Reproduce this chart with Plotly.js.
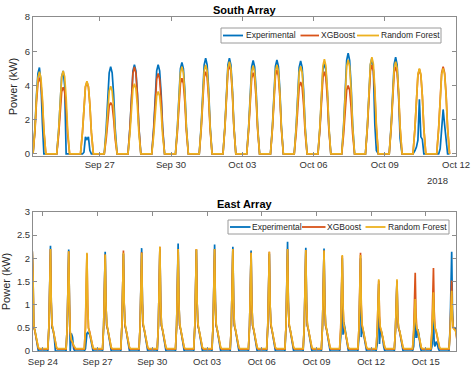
<!DOCTYPE html>
<html>
<head>
<meta charset="utf-8">
<script src="https://cdn.plot.ly/plotly-3.0.1.min.js"></script>
<style>html,body{margin:0;padding:0;background:#fff;}#chart{width:474px;height:372px;}</style>
</head>
<body>
<div id="chart"></div>
<script>
// ---------------- DATA ----------------
const seriesNames = ['Experimental', 'XGBoost', 'Random Forest'];

// South array: one row per day, values at southHours (kW)
const southDays = ['2018-09-24','2018-09-25','2018-09-26','2018-09-27','2018-09-28','2018-09-29',
  '2018-09-30','2018-10-01','2018-10-02','2018-10-03','2018-10-04','2018-10-05','2018-10-06',
  '2018-10-07','2018-10-08','2018-10-09','2018-10-10','2018-10-11'];
const southHours = [4.5, 6.5, 8, 9.5, 11, 12.5, 14, 15.5, 17.5];
const southExp = [
  [0, 1.52, 3.43, 4.70, 5.05, 4.20, 1.80, 0, 0],
  [0, 1.46, 3.30, 4.51, 4.85, 4.00, 0, 0, 0],
  [0, 0, 0.10, 1.00, 0.85, 1.00, 0.20, 0, 0],
  [0, 1.53, 3.47, 4.74, 5.10, 4.74, 3.47, 1.53, 0],
  [0, 1.57, 3.55, 4.85, 5.22, 4.85, 3.55, 1.57, 0],
  [0, 1.57, 3.55, 4.85, 5.22, 4.85, 3.55, 1.57, 0],
  [0, 1.61, 3.64, 4.98, 5.35, 4.98, 3.64, 1.61, 0],
  [0, 1.68, 3.80, 5.20, 5.59, 5.20, 3.80, 1.68, 0],
  [0, 1.68, 3.80, 5.20, 5.59, 5.20, 3.80, 1.68, 0],
  [0, 1.64, 3.71, 5.08, 5.46, 5.08, 3.71, 1.64, 0],
  [0, 1.65, 3.73, 5.11, 5.49, 5.11, 3.73, 1.65, 0],
  [0, 1.63, 3.70, 5.06, 5.44, 5.06, 3.70, 1.63, 0],
  [0, 1.59, 3.60, 4.92, 5.29, 4.92, 3.60, 1.59, 0],
  [0, 1.76, 4.00, 5.47, 5.88, 5.47, 4.00, 1.76, 0],
  [0, 1.68, 3.81, 5.21, 5.60, 4.90, 1.70, 0.20, 0],
  [0, 1.70, 3.84, 5.25, 5.65, 5.20, 3.40, 0.90, 0],
  [0, 0.20, 0.40, 0.80, 3.20, 1.00, 0.85, 0, 0],
  [0, 0, 0.30, 1.80, 2.60, 1.70, 0.65, 0, 0]
];
const southXgb = [
  [0, 1.34, 3.03, 4.14, 4.45, 4.14, 3.03, 1.34, 0],
  [0, 1.17, 2.65, 3.63, 3.90, 3.63, 2.65, 1.17, 0],
  [0, 1.26, 2.86, 3.91, 4.20, 3.91, 2.86, 1.26, 0],
  [0, 0.90, 2.04, 2.79, 3.00, 2.85, 2.04, 0.90, 0],
  [0, 1.52, 3.45, 4.72, 5.08, 4.72, 3.45, 1.52, 0],
  [0, 1.41, 3.20, 4.37, 4.70, 4.37, 3.20, 1.41, 0],
  [0, 1.33, 3.01, 4.11, 4.42, 4.11, 3.01, 1.33, 0],
  [0, 1.44, 3.27, 4.47, 4.81, 4.47, 3.27, 1.44, 0],
  [0, 1.56, 3.54, 4.84, 5.20, 4.84, 3.54, 1.56, 0],
  [0, 1.43, 3.23, 4.42, 4.75, 4.42, 3.23, 1.43, 0],
  [0, 1.47, 3.33, 4.56, 4.90, 4.56, 3.33, 1.47, 0],
  [0, 1.26, 2.86, 3.91, 4.20, 3.91, 2.86, 1.26, 0],
  [0, 1.44, 3.26, 4.46, 4.80, 4.46, 3.26, 1.44, 0],
  [0, 1.20, 2.72, 3.72, 4.00, 3.72, 2.72, 1.20, 0],
  [0, 1.56, 3.54, 4.84, 5.20, 4.84, 3.54, 1.56, 0],
  [0, 1.53, 3.47, 4.74, 5.10, 4.74, 3.47, 1.53, 0],
  [0, 1.49, 3.37, 4.60, 4.95, 4.60, 3.37, 1.49, 0],
  [0, 1.53, 3.47, 4.74, 5.10, 4.74, 3.47, 1.53, 0]
];
const southRf = [
  [0, 1.44, 3.26, 4.46, 4.80, 4.46, 3.26, 1.44, 0],
  [0, 1.46, 3.30, 4.51, 4.85, 4.51, 3.30, 1.46, 0],
  [0, 1.28, 2.89, 3.95, 4.25, 3.95, 2.89, 1.28, 0],
  [0, 1.19, 2.69, 3.67, 3.95, 3.67, 2.69, 1.19, 0],
  [0, 1.23, 2.79, 3.81, 4.10, 3.81, 2.79, 1.23, 0],
  [0, 1.10, 2.48, 3.39, 3.65, 3.39, 2.48, 1.10, 0],
  [0, 1.53, 3.47, 4.74, 5.10, 4.74, 3.47, 1.53, 0],
  [0, 1.56, 3.54, 4.84, 5.20, 4.84, 3.54, 1.56, 0],
  [0, 1.62, 3.67, 5.01, 5.39, 5.01, 3.67, 1.62, 0],
  [0, 1.55, 3.50, 4.79, 5.15, 4.79, 3.50, 1.55, 0],
  [0, 1.56, 3.54, 4.84, 5.20, 4.84, 3.54, 1.56, 0],
  [0, 1.54, 3.48, 4.76, 5.12, 4.76, 3.48, 1.54, 0],
  [0, 1.66, 3.76, 5.14, 5.53, 5.14, 3.76, 1.66, 0],
  [0, 1.65, 3.73, 5.11, 5.49, 5.11, 3.73, 1.65, 0],
  [0, 1.70, 3.84, 5.25, 5.65, 5.25, 3.84, 1.70, 0],
  [0, 1.62, 3.67, 5.01, 5.39, 5.01, 3.67, 1.62, 0],
  [0, 1.50, 3.40, 4.65, 5.00, 4.65, 3.40, 1.50, 0],
  [0, 1.50, 3.40, 4.65, 5.00, 4.65, 3.40, 1.50, 0]
];

// East array: one row per day, values at eastHours (kW)
const eastDays = ['2018-09-23','2018-09-24','2018-09-25','2018-09-26','2018-09-27','2018-09-28',
  '2018-09-29','2018-09-30','2018-10-01','2018-10-02','2018-10-03','2018-10-04','2018-10-05',
  '2018-10-06','2018-10-07','2018-10-08','2018-10-09','2018-10-10','2018-10-11','2018-10-12',
  '2018-10-13','2018-10-14','2018-10-15','2018-10-16'];
const eastHours = [6.5, 8, 9, 10, 11, 12, 13.5, 15, 16.5, 18, 19.5];
const eastExp = [
  [0, 0.55, 1.60, 2.15, 1.62, 0.50, 0.45, 0.30, 0.12, 0, 0],
  [0, 0.55, 1.65, 2.27, 1.05, 0.50, 0.45, 0.30, 0, 0, 0],
  [0, 0.50, 1.60, 2.19, 1.00, 0, 0.38, 0.30, 0.05, 0, 0],
  [0, 0.05, 0.30, 0.38, 0.40, 0.38, 0.36, 0.25, 0.10, 0, 0],
  [0, 0.55, 1.60, 2.14, 1.00, 0.55, 0.45, 0.32, 0.15, 0, 0],
  [0, 0.55, 1.55, 2.10, 1.00, 0.55, 0.45, 0.32, 0.15, 0, 0],
  [0, 0.55, 1.65, 2.22, 1.05, 0.55, 0.45, 0.32, 0.15, 0, 0],
  [0, 0.55, 1.62, 2.20, 1.05, 0.55, 0.45, 0.32, 0.15, 0, 0],
  [0, 0.55, 1.70, 2.32, 1.08, 0.55, 0.45, 0.32, 0.15, 0, 0],
  [0, 0.55, 1.60, 2.18, 1.03, 0.55, 0.45, 0.32, 0.15, 0, 0],
  [0, 0.55, 1.68, 2.30, 1.08, 0.55, 0.45, 0.32, 0.15, 0, 0],
  [0, 0.55, 1.65, 2.25, 1.05, 0.55, 0.45, 0.32, 0.15, 0, 0],
  [0, 0.55, 1.60, 2.17, 1.02, 0.55, 0.45, 0.32, 0.15, 0, 0],
  [0, 0.55, 1.55, 2.10, 1.00, 0.55, 0.45, 0.32, 0.15, 0, 0],
  [0, 0.55, 1.72, 2.36, 1.10, 0.55, 0.45, 0.32, 0.15, 0, 0],
  [0, 0.55, 1.63, 2.23, 1.05, 0.55, 0.45, 0.32, 0.15, 0, 0],
  [0, 0.55, 1.62, 2.21, 1.04, 0.55, 0.45, 0.32, 0.15, 0, 0],
  [0, 0.30, 1.45, 2.00, 0.35, 0.62, 0.50, 0.30, 0.12, 0, 0],
  [0, 0.30, 1.45, 2.00, 0.30, 0.52, 0.42, 0.30, 0.12, 0, 0],
  [0, 0.15, 0.90, 1.45, 0.15, 0.43, 0.40, 0.30, 0.10, 0, 0],
  [0, 0.45, 1.10, 1.50, 0.70, 0.50, 0.42, 0.30, 0.12, 0, 0],
  [0, 0.10, 0.50, 0.90, 0.30, 0.30, 0.47, 0.35, 0.10, 0, 0],
  [0, 0.10, 0.40, 0.70, 0.15, 0.10, 0.20, 0.15, 0.05, 0, 0],
  [0, 0.55, 1.55, 2.14, 0.90, 0.52, 0.50, 0.50, 0.45, 0, 0]
];
const eastXgb = [
  [0.04, 0.55, 1.60, 2.15, 1.62, 0.55, 0.42, 0.30, 0.16, 0.06, 0.04],
  [0.04, 0.55, 1.60, 2.20, 1.05, 0.56, 0.45, 0.33, 0.18, 0.06, 0.04],
  [0.04, 0.50, 1.55, 2.15, 1.00, 0.40, 0.22, 0.18, 0.10, 0.05, 0.04],
  [0.04, 0.50, 1.50, 2.10, 1.00, 0.50, 0.42, 0.30, 0.16, 0.06, 0.04],
  [0.04, 0.55, 1.52, 2.08, 1.00, 0.56, 0.45, 0.33, 0.18, 0.06, 0.04],
  [0.04, 0.55, 1.60, 2.17, 1.04, 0.56, 0.45, 0.33, 0.18, 0.06, 0.04],
  [0.04, 0.55, 1.56, 2.13, 1.02, 0.56, 0.45, 0.33, 0.18, 0.06, 0.04],
  [0.04, 0.55, 1.65, 2.25, 1.06, 0.56, 0.45, 0.33, 0.18, 0.06, 0.04],
  [0.04, 0.55, 1.60, 2.20, 1.05, 0.56, 0.45, 0.33, 0.18, 0.06, 0.04],
  [0.04, 0.55, 1.60, 2.20, 1.05, 0.56, 0.45, 0.33, 0.18, 0.06, 0.04],
  [0.04, 0.55, 1.60, 2.20, 1.05, 0.56, 0.45, 0.33, 0.18, 0.06, 0.04],
  [0.04, 0.55, 1.60, 2.20, 1.05, 0.56, 0.45, 0.33, 0.18, 0.06, 0.04],
  [0.04, 0.55, 1.55, 2.12, 1.02, 0.56, 0.45, 0.33, 0.18, 0.06, 0.04],
  [0.04, 0.55, 1.56, 2.14, 1.02, 0.56, 0.45, 0.33, 0.18, 0.06, 0.04],
  [0.04, 0.55, 1.60, 2.20, 1.05, 0.56, 0.45, 0.33, 0.18, 0.06, 0.04],
  [0.04, 0.55, 1.59, 2.18, 1.04, 0.56, 0.45, 0.33, 0.18, 0.06, 0.04],
  [0.04, 0.55, 1.58, 2.17, 1.03, 0.56, 0.45, 0.33, 0.18, 0.06, 0.04],
  [0.04, 0.50, 1.50, 2.05, 0.98, 0.55, 0.44, 0.32, 0.17, 0.06, 0.04],
  [0.04, 0.50, 1.55, 2.12, 1.00, 0.55, 0.44, 0.32, 0.17, 0.06, 0.04],
  [0.04, 0.45, 1.10, 1.52, 0.75, 0.50, 0.42, 0.30, 0.16, 0.06, 0.04],
  [0.04, 0.45, 1.10, 1.52, 0.75, 0.50, 0.42, 0.30, 0.16, 0.06, 0.04],
  [0.04, 0.45, 1.20, 1.69, 0.80, 0.50, 0.42, 0.30, 0.16, 0.06, 0.04],
  [0.04, 0.45, 1.30, 1.79, 0.85, 0.50, 0.42, 0.30, 0.16, 0.06, 0.04],
  [0.04, 0.45, 1.10, 1.52, 0.75, 0.50, 0.48, 0.45, 0.30, 0.06, 0.04]
];
const eastRf = [
  [0.05, 0.55, 1.60, 2.15, 1.65, 0.56, 0.44, 0.32, 0.18, 0.08, 0.05],
  [0.05, 0.55, 1.60, 2.20, 1.05, 0.58, 0.46, 0.33, 0.19, 0.08, 0.05],
  [0.05, 0.50, 1.55, 2.15, 1.00, 0.42, 0.24, 0.20, 0.12, 0.07, 0.05],
  [0.05, 0.50, 1.50, 2.12, 1.00, 0.50, 0.40, 0.30, 0.17, 0.07, 0.05],
  [0.05, 0.55, 1.52, 2.08, 1.00, 0.60, 0.46, 0.33, 0.19, 0.08, 0.05],
  [0.05, 0.55, 1.56, 2.12, 1.02, 0.60, 0.46, 0.33, 0.19, 0.08, 0.05],
  [0.05, 0.55, 1.56, 2.12, 1.02, 0.60, 0.46, 0.33, 0.19, 0.08, 0.05],
  [0.05, 0.55, 1.65, 2.25, 1.06, 0.60, 0.46, 0.33, 0.19, 0.08, 0.05],
  [0.05, 0.55, 1.60, 2.20, 1.05, 0.60, 0.46, 0.33, 0.19, 0.08, 0.05],
  [0.05, 0.55, 1.60, 2.20, 1.05, 0.60, 0.46, 0.33, 0.19, 0.08, 0.05],
  [0.05, 0.55, 1.60, 2.20, 1.05, 0.60, 0.46, 0.33, 0.19, 0.08, 0.05],
  [0.05, 0.55, 1.60, 2.20, 1.05, 0.60, 0.46, 0.33, 0.19, 0.08, 0.05],
  [0.05, 0.55, 1.55, 2.12, 1.02, 0.60, 0.46, 0.33, 0.19, 0.08, 0.05],
  [0.05, 0.55, 1.56, 2.14, 1.02, 0.60, 0.46, 0.33, 0.19, 0.08, 0.05],
  [0.05, 0.55, 1.60, 2.20, 1.05, 0.60, 0.46, 0.33, 0.19, 0.08, 0.05],
  [0.05, 0.55, 1.59, 2.18, 1.04, 0.60, 0.46, 0.33, 0.19, 0.08, 0.05],
  [0.05, 0.55, 1.58, 2.17, 1.03, 0.60, 0.46, 0.33, 0.19, 0.08, 0.05],
  [0.05, 0.50, 1.52, 2.07, 0.98, 0.58, 0.46, 0.33, 0.19, 0.08, 0.05],
  [0.05, 0.50, 1.52, 2.07, 0.98, 0.58, 0.46, 0.33, 0.19, 0.08, 0.05],
  [0.05, 0.45, 1.12, 1.55, 0.75, 0.52, 0.44, 0.32, 0.18, 0.08, 0.05],
  [0.05, 0.45, 1.12, 1.55, 0.75, 0.52, 0.44, 0.32, 0.18, 0.08, 0.05],
  [0.05, 0.40, 0.82, 1.12, 0.62, 0.50, 0.44, 0.32, 0.18, 0.08, 0.05],
  [0.05, 0.40, 0.92, 1.27, 0.66, 0.50, 0.44, 0.32, 0.18, 0.08, 0.05],
  [0.05, 0.42, 0.95, 1.30, 0.70, 0.50, 0.46, 0.45, 0.30, 0.08, 0.05]
];

// tick labels
const southTickVals = ['2018-09-27','2018-09-30','2018-10-03','2018-10-06','2018-10-09','2018-10-12'];
const southTickText = ['Sep 27','Sep 30','Oct 03','Oct 06','Oct 09','Oct 12'];
const eastTickVals = ['2018-09-24','2018-09-27','2018-09-30','2018-10-03','2018-10-06','2018-10-09','2018-10-12','2018-10-15'];
const eastTickText = ['Sep 24','Sep 27','Sep 30','Oct 03','Oct 06','Oct 09','Oct 12','Oct 15'];
const southYTicks = [0, 2, 4, 6, 8];
const eastYTicks = [0, 0.5, 1, 1.5, 2, 2.5, 3];
const yearLabel = '2018';

// ---------------- BUILD ----------------
const colors = ['#0072BD', '#D95319', '#EDB120'];
function stamp(day, h) {
  const p = day.split('-').map(Number);
  const ms = Date.UTC(p[0], p[1] - 1, p[2]) + h * 3600000;
  return new Date(ms).toISOString().slice(0, 19).replace('T', ' ');
}
function build(days, hours, vals) {
  const x = [], y = [];
  days.forEach((d, i) => hours.forEach((h, j) => { x.push(stamp(d, h)); y.push(vals[i][j]); }));
  return {x, y};
}
const traces = [];
[southExp, southXgb, southRf].forEach((v, k) => {
  const s = build(southDays, southHours, v);
  traces.push({x: s.x, y: s.y, type: 'scatter', mode: 'lines', name: seriesNames[k],
    line: {color: colors[k], width: 1.7}, xaxis: 'x', yaxis: 'y', showlegend: false, hoverinfo: 'skip'});
});
[eastExp, eastXgb, eastRf].forEach((v, k) => {
  const s = build(eastDays, eastHours, v);
  traces.push({x: s.x, y: s.y, type: 'scatter', mode: 'lines', name: seriesNames[k],
    line: {color: colors[k], width: 1.7}, xaxis: 'x2', yaxis: 'y2', showlegend: false, hoverinfo: 'skip'});
});

// pixel geometry of the plot area
const L = 33, R = 18, T = 17, B = 21, W = 474, H = 372;
const PW = W - L - R, PH = H - T - B;
const px = v => (v - L) / PW;
const py = v => (H - B - v) / PH;

const axisCommon = {
  showline: true, linecolor: '#8c8c8c', linewidth: 1, mirror: 'ticks',
  ticks: 'inside', ticklen: 4, tickcolor: '#8c8c8c', tickwidth: 1,
  showgrid: false, zeroline: false,
  tickfont: {family: 'Liberation Sans, Arial, sans-serif', size: 9.5, color: '#333'}
};
const ytitle = {text: 'Power (kW)', font: {family: 'Liberation Sans, Arial, sans-serif', size: 11, color: '#262626'}, standoff: 4};

const shapes = [], annotations = [];
function legend(box, items, cy) {
  shapes.push({type: 'rect', xref: 'paper', yref: 'paper', x0: px(box[0]), x1: px(box[1]),
    y0: py(box[3]), y1: py(box[2]), fillcolor: '#ffffff', line: {color: '#9a9a9a', width: 1}, layer: 'above'});
  items.forEach((it, k) => {
    shapes.push({type: 'line', xref: 'paper', yref: 'paper', x0: px(it[0]), x1: px(it[1]),
      y0: py(cy), y1: py(cy), line: {color: colors[k], width: 1.8}, layer: 'above'});
    annotations.push({xref: 'paper', yref: 'paper', x: px(it[2]), y: py(cy), xanchor: 'left', yanchor: 'middle',
      text: seriesNames[k], showarrow: false, borderpad: 0,
      font: {family: 'Liberation Sans, Arial, sans-serif', size: 8.5, color: '#262626'}});
  });
}
legend([221, 441, 28, 43], [[223, 243, 244.5], [300.5, 319, 319.5], [357, 379, 379.5]], 35.5);
legend([228, 449, 220, 234], [[230, 250.5, 251], [302, 325.5, 326], [365.5, 385.5, 387]], 227);

const titleFont = {family: 'Liberation Sans, Arial, sans-serif', size: 11, color: '#000', weight: 'bold'};
annotations.push({xref: 'paper', yref: 'paper', x: 0.5, y: py(10), xanchor: 'center', yanchor: 'middle',
  text: 'South Array', showarrow: false, font: titleFont});
annotations.push({xref: 'paper', yref: 'paper', x: 0.5, y: py(204), xanchor: 'center', yanchor: 'middle',
  text: 'East Array', showarrow: false, font: titleFont});
annotations.push({xref: 'paper', yref: 'paper', x: px(437), y: py(180), xanchor: 'center', yanchor: 'middle',
  text: yearLabel, showarrow: false, font: {family: 'Liberation Sans, Arial, sans-serif', size: 9.5, color: '#333'}});

const layout = {
  width: W, height: H,
  margin: {l: L, r: R, t: T, b: B, pad: 0},
  paper_bgcolor: '#fff', plot_bgcolor: '#fff',
  showlegend: false,
  xaxis: Object.assign({}, axisCommon, {type: 'date', anchor: 'y', domain: [0, 1],
    range: ['2018-09-24 04:30', '2018-10-12 00:00'], tickvals: southTickVals, ticktext: southTickText}),
  yaxis: Object.assign({}, axisCommon, {anchor: 'x', domain: [py(156), 1], range: [-0.12, 8],
    tickvals: southYTicks, title: ytitle}),
  xaxis2: Object.assign({}, axisCommon, {type: 'date', anchor: 'y2', domain: [0, 1],
    range: ['2018-09-23 11:00', '2018-10-16 15:40'], tickvals: eastTickVals, ticktext: eastTickText,
    ticklabelstandoff: 2}),
  yaxis2: Object.assign({}, axisCommon, {anchor: 'x2', domain: [0, py(212)], range: [0, 3],
    tickvals: eastYTicks, title: ytitle}),
  shapes: shapes,
  annotations: annotations
};

Plotly.newPlot('chart', traces, layout, {staticPlot: true, displayModeBar: false});
</script>
</body>
</html>
